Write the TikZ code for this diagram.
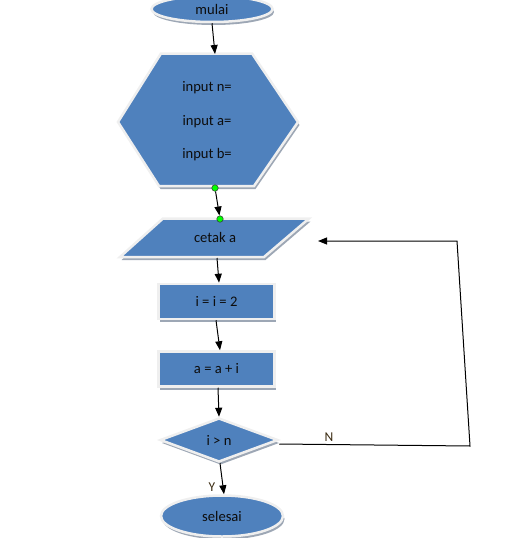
\documentclass[tikz,border=0pt]{standalone}
\usepackage{fontspec}
\setmainfont{Carlito}
\usetikzlibrary{shapes.geometric,arrows.meta,shadows}
\definecolor{fillblue}{HTML}{4F81BD}
\definecolor{rim}{HTML}{EFEFEF}
\definecolor{shade}{HTML}{9DA7B5}
\definecolor{txt}{HTML}{0D0D0D}
\definecolor{lbl}{HTML}{3A2A10}
\begin{document}
\begin{tikzpicture}[x=1pt,y=-1pt,
  font=\fontsize{14.6}{17}\selectfont, text=txt,
  blk/.style={fill=fillblue, draw=rim, line width=2.5pt,
    general shadow={fill=shade, shadow xshift=1.5pt, shadow yshift=-3pt}},
  conn/.style={draw=black, line width=1pt, -{Triangle[length=9pt,width=7pt]}},
  gdot/.style={circle, fill=green, draw=black!80, line width=0.5pt, minimum size=6.5pt, inner sep=0pt},
  lab/.style={text=lbl, font=\fontsize{13.5}{16}\selectfont}]
\useasboundingbox (0,0) rectangle (529,538);

% start
\node[blk, ellipse, minimum width=121pt, minimum height=26pt, inner sep=0pt] (start) at (212,9) {mulai};

% hexagon input
\draw[blk] (161,53.5) -- (252,53.5) -- (298,122) -- (254,186) -- (159,186) -- (118,122) -- cycle;
\node (inn) at (207,88) {input n=};
\node (ina) at (207,122) {input a=};
\node (inb) at (207,155) {input b=};
\coordinate (hexin) at (215,54);

% parallelogram output
\draw[blk] (163,218.5) -- (309,218.5) -- (264,257) -- (120,257) -- cycle;
\node (cetak) at (215,237) {cetak a};
\coordinate (parout) at (217,258);
\coordinate (loopin) at (318,241);

% process boxes
\node[blk, rectangle, minimum width=116pt, minimum height=35pt, inner sep=0pt] (r1) at (216.5,301.5) {i = i = 2};
\node[blk, rectangle, minimum width=116pt, minimum height=35pt, inner sep=0pt] (r2) at (216.5,369) {a = a + i};

% decision
\node[blk, diamond, aspect=2.6, minimum width=118pt, minimum height=44pt, inner sep=0pt] (dec) at (219,440) {i > n};

% end
\node[blk, ellipse, minimum width=122pt, minimum height=41pt, inner sep=0pt] (stop) at (222,516) {selesai};

% loop corners
\coordinate (c1) at (470,446);
\coordinate (c2) at (457,241);

% green dots
\node[gdot] (g1) at (215,188) {};
\node[gdot] (g2) at (220,219) {};

% connectors
\draw[conn] (start.south) -- (hexin);
\draw[conn] (g1) -- (g2);
\draw[conn] (parout) -- ([xshift=2.5pt]r1.north);
\draw[conn] ([xshift=-0.5pt]r1.south) -- ([xshift=3.5pt]r2.north);
\draw[conn] ([xshift=1.5pt]r2.south) -- (dec.north);
\draw[conn] ([xshift=1pt]dec.south) -- ([xshift=2pt]stop.north);
\draw[conn] ([yshift=-4pt]dec.east) -- (c1) -- (c2) -- (loopin);

% labels
\node[lab] (labN) at (329,437) {N};
\node[lab] (labY) at (212,487) {Y};
\end{tikzpicture}
\end{document}
